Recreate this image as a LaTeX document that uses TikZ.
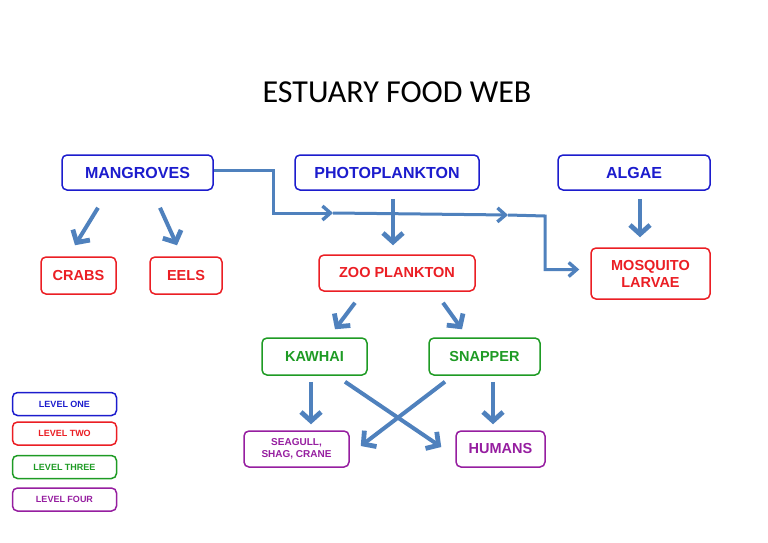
\documentclass[tikz,border=0pt]{standalone}
\usepackage{fontspec}
\setmainfont{Liberation Sans}
\newfontfamily\titlefont{Carlito}
\usepackage{tikz}
\usetikzlibrary{arrows.meta,positioning}
\definecolor{lvlone}{RGB}{28,28,205}
\definecolor{lvltwo}{RGB}{235,30,36}
\definecolor{lvlthree}{RGB}{30,155,36}
\definecolor{lvlfour}{RGB}{150,30,160}
\definecolor{webblue}{RGB}{79,129,189}

\begin{document}
\begin{tikzpicture}[x=1pt, y=-1pt, >={Straight Barb[length=9pt,width=20pt,line width=0.8pt 1]},
  box/.style={draw, rounded corners=5pt, line width=1.5pt, align=center, inner sep=0pt, fill=white},
  big/.style={font=\fontsize{16}{19}\selectfont\bfseries},
  mid/.style={font=\fontsize{14.5}{17}\selectfont\bfseries},
  small/.style={font=\fontsize{10}{11.5}\selectfont\bfseries},
  key/.style={box, minimum width=104pt, minimum height=23pt, font=\fontsize{9}{10}\selectfont\bfseries},
  one/.style={box, draw=lvlone, text=lvlone},
  two/.style={box, draw=lvltwo, text=lvltwo},
  three/.style={box, draw=lvlthree, text=lvlthree},
  four/.style={box, draw=lvlfour, text=lvlfour},
  link/.style={->, draw=webblue, line width=4pt},
  thinlink/.style={-{Straight Barb[length=8pt,width=14pt,line width=0.4pt 1]}, draw=webblue, line width=3pt}]
\useasboundingbox (0,0) rectangle (768,543);
\node[font=\titlefont\fontsize{32}{36}\selectfont] (title) at (397,92) {ESTUARY FOOD WEB};
% ---------------- level one
\node[one, big, minimum width=151pt, minimum height=35pt] (mangroves) at (137.5,172.5) {MANGROVES};
\node[one, big, minimum width=184pt, minimum height=35pt] (photo) at (387,172.5) {PHOTOPLANKTON};
\node[one, big, minimum width=152pt, minimum height=35pt] (algae) at (634,172.5) {ALGAE};
% ---------------- level two
\node[two, mid, minimum width=75pt, minimum height=37pt] (crabs) at (78.5,275.5) {CRABS};
\node[two, mid, minimum width=72pt, minimum height=37pt] (eels) at (186,275.5) {EELS};
\node[two, mid, minimum width=156pt, minimum height=36pt] (zoo) at (397,273) {ZOO PLANKTON};
\node[two, mid, minimum width=119pt, minimum height=51pt] (mosq) at (650.5,273.5) {MOSQUITO\\LARVAE};
% ---------------- level three
\node[three, mid, minimum width=105pt, minimum height=37pt] (kawhai) at (314.5,356.5) {KAWHAI};
\node[three, mid, minimum width=111pt, minimum height=37pt] (snapper) at (484.5,356.5) {SNAPPER};
% ---------------- level four
\node[four, small, minimum width=105pt, minimum height=36pt] (birds) at (296.5,449) {SEAGULL,\\SHAG, CRANE};
\node[four, mid, minimum width=89pt, minimum height=36pt] (humans) at (500.5,449) {HUMANS};
% ---------------- key
\node[key, one] (k1) at (64.5,404) {LEVEL ONE};
\node[key, two, below=5pt of k1] (k2) {LEVEL TWO};
\node[key, three, below=9pt of k2] (k3) {LEVEL THREE};
\node[key, four, below=8pt of k3] (k4) {LEVEL FOUR};
% ---------------- links
\draw[link] ([xshift=-39.5pt,yshift=-17pt]mangroves.south) -- ([xshift=-3.5pt,yshift=11pt]crabs.north);
\draw[link] ([xshift=22.5pt,yshift=-17pt]mangroves.south) -- ([xshift=-9pt,yshift=11pt]eels.north);
\coordinate (turn) at (273,213);
\coordinate (mid1) at (333,213);
\coordinate (mid2) at (508,215);
\draw[thinlink] ([yshift=2.5pt]mangroves.east) -| (turn) -- (mid1);
\draw[thinlink] (mid1) -- (mid2);
\draw[thinlink] (mid2) -- ++(37,1) |- ([xshift=-11pt,yshift=4pt]mosq.west);
\draw[link] ([xshift=6pt,yshift=-8pt]photo.south) -- ([xshift=-4pt,yshift=9pt]zoo.north);
\draw[link] ([xshift=6pt,yshift=-8pt]algae.south) -- ([xshift=-10.5pt,yshift=10pt]mosq.north);
\draw[link] ([xshift=-42pt,yshift=-11pt]zoo.south) -- ([xshift=20.5pt,yshift=8pt]kawhai.north);
\draw[link] ([xshift=46pt,yshift=-11pt]zoo.south) -- ([xshift=-22.5pt,yshift=8pt]snapper.north);
\draw[link] ([xshift=-3.5pt,yshift=-6pt]kawhai.south) -- ([xshift=14.5pt,yshift=6pt]birds.north);
\draw[link] ([xshift=8.5pt,yshift=-6pt]snapper.south) -- ([xshift=-7.5pt,yshift=6pt]humans.north);
\draw[link] ([xshift=30.5pt,yshift=-6pt]kawhai.south) -- ([xshift=-14pt,yshift=2pt]humans.west);
\draw[link] ([xshift=-39.5pt,yshift=-6pt]snapper.south) -- ([xshift=11pt,yshift=3pt]birds.east);
\end{tikzpicture}
\end{document}
